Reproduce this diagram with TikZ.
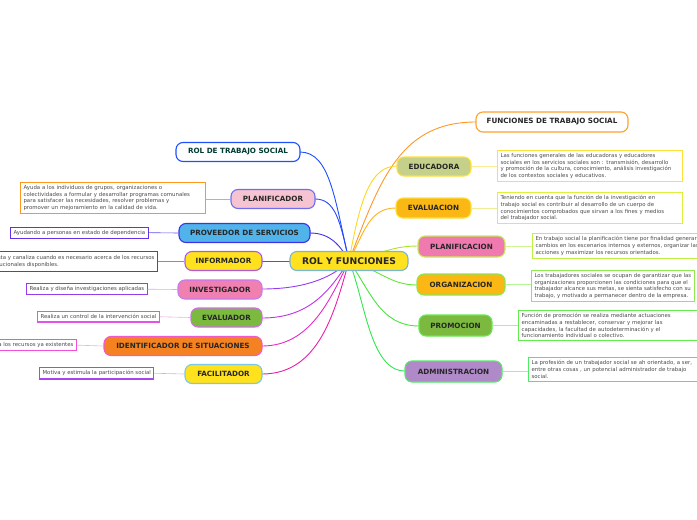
\documentclass[tikz,border=0pt]{standalone}
\usepackage{fontspec}
\setmainfont{DejaVu Sans}
\begin{document}
\begin{tikzpicture}[x=1pt,y=-1pt,
 lab/.style={rounded corners=7pt,draw,line width=1.1pt,font=\fontsize{7.2}{8}\selectfont\bfseries,minimum height=19pt,inner xsep=2pt,text=black!85},
 desc/.style={draw,line width=1.1pt,fill=white,font=\fontsize{5.4}{6.6}\selectfont,text=black!70,align=left,inner sep=3pt,anchor=north west},
 con/.style={line width=0.9pt},
 lk/.style={line width=0.6pt}]
\useasboundingbox (0,0) rectangle (697,520);
\coordinate (c) at (349,261);
\draw[con,color={rgb,255:red,30;green,80;blue,255}] (c) .. controls (335,200) and (330,152) .. (300,152);
\draw[con,color={rgb,255:red,40;green,70;blue,255}] (c) .. controls (340,220) and (335,199) .. (315,199);
\draw[con,color={rgb,255:red,70;green,50;blue,230}] (c) .. controls (340,245) and (330,233) .. (310,233);
\draw[con,color={rgb,255:red,140;green,50;blue,230}] (c) -- (262,261);
\draw[con,color={rgb,255:red,150;green,60;blue,235}] (c) .. controls (330,280) and (300,289) .. (262,289);
\draw[con,color={rgb,255:red,190;green,50;blue,230}] (c) .. controls (330,290) and (310,318) .. (262,318);
\draw[con,color={rgb,255:red,230;green,40;blue,200}] (c) .. controls (330,300) and (310,346) .. (262,346);
\draw[con,color={rgb,255:red,235;green,30;blue,170}] (c) .. controls (335,310) and (320,374) .. (262,374);
\draw[con,color={rgb,255:red,255;green,150;blue,40}] (c) .. controls (380,180) and (400,122) .. (476,122);
\draw[con,color={rgb,255:red,255;green,215;blue,30}] (c) .. controls (360,200) and (370,166) .. (397,166);
\draw[con,color={rgb,255:red,255;green,180;blue,20}] (c) .. controls (365,230) and (370,208) .. (396,208);
\draw[con,color={rgb,255:red,170;green,230;blue,40}] (c) .. controls (380,255) and (390,246) .. (418,246);
\draw[con,color={rgb,255:red,100;green,230;blue,60}] (c) .. controls (380,270) and (390,285) .. (417,285);
\draw[con,color={rgb,255:red,70;green,230;blue,60}] (c) .. controls (370,290) and (380,326) .. (419,326);
\draw[con,color={rgb,255:red,50;green,230;blue,80}] (c) .. controls (365,300) and (370,371) .. (405,371);
% center
\node[lab,fill={rgb,255:red,255;green,225;blue,30},draw={rgb,255:red,120;green,180;blue,220},minimum width=118pt,font=\fontsize{9.2}{10}\selectfont\bfseries] (rf) at (349,261) {ROL Y FUNCIONES};
% left nodes
\node[lab,fill=white,draw={rgb,255:red,30;green,80;blue,255},minimum width=124pt,text={rgb,255:red,0;green,60;blue,50}] (rol) at (238,152) {ROL DE TRABAJO SOCIAL};
\node[lab,fill={rgb,255:red,245;green,195;blue,210},draw={rgb,255:red,110;green,110;blue,240},minimum width=84pt] (pla) at (273,199) {PLANIFICADOR};
\node[lab,fill={rgb,255:red,80;green,180;blue,235},draw={rgb,255:red,60;green,50;blue,230},minimum width=131pt] (pro) at (244.5,233) {PROVEEDOR DE SERVICIOS};
\node[lab,fill={rgb,255:red,255;green,225;blue,30},draw={rgb,255:red,170;green,90;blue,235},minimum width=77pt] (inf) at (223.5,261) {INFORMADOR};
\node[lab,fill={rgb,255:red,240;green,128;blue,176},draw={rgb,255:red,200;green,120;blue,240},minimum width=84pt] (inv) at (220,289.5) {INVESTIGADOR};
\node[lab,fill={rgb,255:red,124;green,185;blue,63},draw={rgb,255:red,210;green,110;blue,235},minimum width=71pt] (eva) at (226.5,317.5) {EVALUADOR};
\node[lab,fill={rgb,255:red,245;green,130;blue,32},draw={rgb,255:red,240;green,90;blue,200},minimum width=158pt] (ide) at (183,346) {IDENTIFICADOR DE SITUACIONES};
\node[lab,fill={rgb,255:red,255;green,225;blue,30},draw={rgb,255:red,120;green,200;blue,230},minimum width=77pt] (fac) at (223.5,374) {FACILITADOR};
% left descriptions
\node[desc,draw={rgb,255:red,255;green,150;blue,30},text width=179pt] (dpla) at (20,182) {Ayuda a los individuos de grupos, organizaciones o\\colectividades a formular y desarrollar programas comunales\\para satisfacer las necesidades, resolver problemas y\\promover un mejoramiento en la calidad de vida.};
\node[desc,draw={rgb,255:red,100;green,50;blue,230}] (dpro) at (10,226.5) {Ayudando a personas en estado de dependencia};
\node[desc,draw={rgb,255:red,120;green,40;blue,220},anchor=north east,minimum height=20pt] (dinf) at (158,251) {Orienta y canaliza cuando es necesario acerca de los recursos\\institucionales disponibles.};
\node[desc,draw={rgb,255:red,150;green,60;blue,235}] (dinv) at (26,283) {Realiza y diseña investigaciones aplicadas};
\node[desc,draw={rgb,255:red,230;green,80;blue,235}] (deva) at (37,311) {Realiza un control de la intervención social};
\node[desc,draw={rgb,255:red,240;green,80;blue,220},anchor=north east] (dide) at (77,339) {Identifica los recursos ya existentes};
\node[desc,draw={rgb,255:red,170;green,70;blue,235}] (dfac) at (39,367) {Motiva y estimula la participación social};
\draw[lk,color={rgb,255:red,170;green,170;blue,245}] (dpla.east|-pla) -- (pla.west);
\draw[lk,color={rgb,255:red,100;green,80;blue,235}] (dpro.east) -- (pro.west);
\draw[lk,color={rgb,255:red,170;green,110;blue,240}] (dinf.east|-inf) -- (inf.west);
\draw[lk,color={rgb,255:red,220;green,170;blue,245}] (dinv.east) -- (inv.west);
\draw[lk,color={rgb,255:red,240;green,170;blue,240}] (deva.east) -- (eva.west);
\draw[lk,color={rgb,255:red,245;green,170;blue,230}] (dide.east) -- (ide.west);
\draw[lk,color={rgb,255:red,220;green,170;blue,245}] (dfac.east) -- (fac.west);
% right nodes
\node[lab,fill=white,draw={rgb,255:red,255;green,160;blue,40},minimum width=152pt,minimum height=20pt] (fun) at (552,122) {FUNCIONES DE TRABAJO SOCIAL};
\node[lab,fill={rgb,255:red,197;green,208;blue,138},draw={rgb,255:red,255;green,225;blue,60},minimum width=74pt] (edu) at (434,166.5) {EDUCADORA};
\node[lab,fill={rgb,255:red,251;green,183;blue,20},draw={rgb,255:red,255;green,225;blue,60},minimum width=75pt,minimum height=20pt] (evl) at (433.5,208) {EVALUACION};
\node[lab,fill={rgb,255:red,240;green,122;blue,176},draw={rgb,255:red,200;green,235;blue,90},minimum width=87pt,minimum height=21pt] (plc) at (461.5,246.5) {PLANIFICACION};
\node[lab,fill={rgb,255:red,251;green,183;blue,20},draw={rgb,255:red,140;green,230;blue,80},minimum width=88pt,minimum height=21pt] (org) at (461,284.5) {ORGANIZACION};
\node[lab,fill={rgb,255:red,124;green,185;blue,63},draw={rgb,255:red,100;green,235;blue,80},minimum width=73pt,minimum height=21pt] (prm) at (455.5,325.5) {PROMOCION};
\node[lab,fill={rgb,255:red,176;green,138;blue,200},draw={rgb,255:red,80;green,235;blue,100},minimum width=97pt,minimum height=21pt] (adm) at (453.5,371.5) {ADMINISTRACION};
% right descriptions
\node[desc,draw={rgb,255:red,255;green,225;blue,60},text width=179pt] (dedu) at (497,150) {Las funciones generales de las educadoras y educadores\\sociales en los servicios sociales son : transmisión, desarrollo\\y promoción de la cultura, conocimiento, análisis investigación\\de los contextos sociales y educativos.};
\node[desc,draw={rgb,255:red,220;green,240;blue,60},text width=179pt] (devl) at (497,192) {Teniendo en cuenta que la función de la investigación en\\trabajo social es contribuir al desarrollo de un cuerpo de\\conocimientos comprobados que sirvan a los fines y medios\\del trabajador social.};
\node[desc,draw={rgb,255:red,190;green,240;blue,70}] (dplc) at (532,233) {En trabajo social la planificación tiene por finalidad generar\\cambios en los escenarios internos y externos, organizar las\\acciones y maximizar los recursos orientados.};
\node[desc,draw={rgb,255:red,140;green,235;blue,80}] (dorg) at (531,270) {Los trabajadores sociales se ocupan de garantizar que las\\organizaciones proporcionen las condiciones para que el\\trabajador alcance sus metas, se sienta satisfecho con su\\trabajo, y motivado a permanecer dentro de la empresa.};
\node[desc,draw={rgb,255:red,100;green,235;blue,80},text width=179pt] (dprm) at (518,310) {Función de promoción se realiza mediante actuaciones\\encaminadas a restablecer, conservar y mejorar las\\capacidades, la facultad de autodeterminación y el\\funcionamiento individual o colectivo.};
\node[desc,draw={rgb,255:red,80;green,235;blue,100},text width=179pt] (dadm) at (528,357) {La profesión de un trabajador social se ah orientado, a ser,\\entre otras cosas , un potencial administrador de trabajo\\social.};
\draw[lk,color={rgb,255:red,255;green,235;blue,150}] (edu.east) -- (dedu.west|-edu);
\draw[lk,color={rgb,255:red,240;green,235;blue,150}] (evl.east) -- (devl.west|-evl);
\draw[lk,color={rgb,255:red,210;green,245;blue,150}] (plc.east) -- (dplc.west|-plc);
\draw[lk,color={rgb,255:red,180;green,245;blue,150}] (org.east) -- (dorg.west|-org);
\draw[lk,color={rgb,255:red,160;green,245;blue,150}] (prm.east) -- (dprm.west|-prm);
\draw[lk,color={rgb,255:red,150;green,245;blue,160}] (adm.east) -- (dadm.west|-adm);
\end{tikzpicture}
\end{document}
